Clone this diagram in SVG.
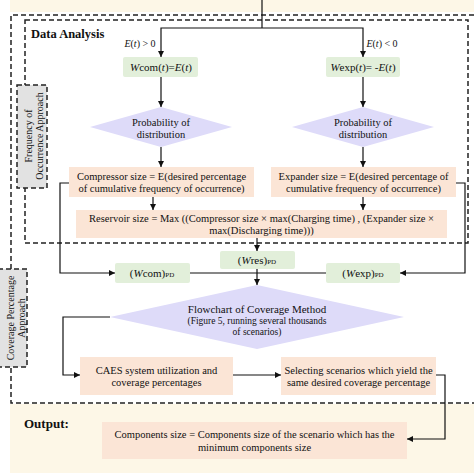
<svg xmlns="http://www.w3.org/2000/svg" width="474" height="473" viewBox="0 0 474 473">
<defs>
<marker id="ah" viewBox="0 0 10 10" refX="10" refY="5" markerWidth="6" markerHeight="6" markerUnits="userSpaceOnUse" orient="auto">
<path d="M0,0 L10,5 L0,10 z" fill="#111"/>
</marker>
<style>
text{font-family:"Liberation Serif","Times New Roman",serif;fill:#111;}
.t{font-size:10.5px;text-anchor:middle;}
.lab{font-size:10px;text-anchor:middle;}
.green{fill:#e2efda;}
.peach{fill:#fbe5d6;}
.dia{fill:#dedbf9;}
.gray{fill:#e2e2e2;stroke:#222;stroke-width:1.5;stroke-dasharray:5 3;}
.dash{fill:none;stroke:#222;stroke-width:1.5;stroke-dasharray:5 3;}
.ln{fill:none;stroke:#111;stroke-width:1.2;}
.it{font-style:italic;}
.pd{font-size:7px;}
</style>
</defs>
<rect width="474" height="473" fill="#fff"/>
<rect x="10" y="0" width="464" height="12" fill="#fdf7e7"/>
<rect x="10" y="404" width="464" height="69" fill="#fdf7e7"/>

<g id="frames">
<path class="dash" d="M474,15 H11 V403 H474"/>
<rect class="dash" x="25" y="20" width="443" height="223"/>
</g>

<g id="freq-label">
<rect class="gray" x="17" y="85" width="30" height="103"/>
<g transform="translate(32,136) rotate(-90)">
<text class="lab" x="0" y="0">Frequency of</text>
<text class="lab" x="0" y="11">Occurrence Approach</text>
</g>
</g>
<g id="cov-label">
<rect class="gray" x="-2" y="269" width="29" height="98"/>
<g transform="translate(13,318) rotate(-90)">
<text class="lab" x="0" y="1">Coverage Percentage</text>
<text class="lab" x="0" y="12">Approach</text>
</g>
</g>
<text x="31" y="38" style="font-size:12.5px;font-weight:bold;">Data Analysis</text>
<text x="24" y="428" style="font-size:13px;font-weight:bold;">Output:</text>

<g id="connectors">
<path class="ln" d="M262,0 V28"/>
<path class="ln" d="M262,28 H161 V57" marker-end="url(#ah)"/>
<path class="ln" d="M262,28 H363 V57" marker-end="url(#ah)"/>
<path class="ln" d="M161,77 V107" marker-end="url(#ah)"/>
<path class="ln" d="M363,77 V107" marker-end="url(#ah)"/>
<path class="ln" d="M161,147 V167" marker-end="url(#ah)"/>
<path class="ln" d="M363,147 V167" marker-end="url(#ah)"/>
<path class="ln" d="M153,197 V210" marker-end="url(#ah)"/>
<path class="ln" d="M363,197 V210" marker-end="url(#ah)"/>
<path class="ln" d="M257,238 V251" marker-end="url(#ah)"/>
<path class="ln" d="M69,183 H60 V273 H115" marker-end="url(#ah)"/>
<path class="ln" d="M456,183 H465 V273 H400" marker-end="url(#ah)"/>
<path class="ln" d="M190,273 H326"/>
<path class="ln" d="M257,269 V285" marker-end="url(#ah)"/>
<path class="ln" d="M110,317 H63 V375 H80" marker-end="url(#ah)"/>
<path class="ln" d="M233,375 H281" marker-end="url(#ah)"/>
<path class="ln" d="M436,375 H445 V439 H407" marker-end="url(#ah)"/>
</g>

<text x="140" y="47" class="t" style="font-size:10px;"><tspan class="it">E</tspan>(<tspan class="it">t</tspan>) &gt; 0</text>
<text x="382" y="47" class="t" style="font-size:10px;"><tspan class="it">E</tspan>(<tspan class="it">t</tspan>) &lt; 0</text>

<g id="wcom">
<rect class="green" x="123" y="57" width="75" height="20" rx="2"/>
<text class="t" x="161" y="71" style="font-size:11px;"><tspan class="it">W</tspan>com(<tspan class="it">t</tspan>)=<tspan class="it">E</tspan>(<tspan class="it">t</tspan>)</text>
</g>
<g id="wexp">
<rect class="green" x="326" y="57" width="74" height="20" rx="2"/>
<text class="t" x="363" y="71" style="font-size:11px;"><tspan class="it">W</tspan>exp(<tspan class="it">t</tspan>)= -<tspan class="it">E</tspan>(<tspan class="it">t</tspan>)</text>
</g>

<g id="prob1">
<polygon class="dia" points="161,107 232,127 161,147 90,127"/>
<text class="t" x="161" y="126">Probability of</text>
<text class="t" x="161" y="138">distribution</text>
</g>
<g id="prob2">
<polygon class="dia" points="363,107 434,127 363,147 292,127"/>
<text class="t" x="363" y="126">Probability of</text>
<text class="t" x="363" y="138">distribution</text>
</g>

<g id="compressor">
<rect class="peach" x="69" y="167" width="185" height="30"/>
<text class="t" x="161.5" y="180">Compressor size = E(desired percentage</text>
<text class="t" x="161.5" y="192">of cumulative frequency of occurrence)</text>
</g>
<g id="expander">
<rect class="peach" x="271" y="167" width="185" height="30"/>
<text class="t" x="363.5" y="180">Expander size = E(desired percentage of</text>
<text class="t" x="363.5" y="192">cumulative frequency of occurrence)</text>
</g>
<g id="reservoir">
<rect class="peach" x="76" y="210" width="371" height="28"/>
<text class="t" x="261.5" y="222">Reservoir size = Max ((Compressor size × max(Charging time) , (Expander size ×</text>
<text class="t" x="261.5" y="234">max(Discharging time)))</text>
</g>

<g id="wres">
<rect class="green" x="220" y="251" width="75" height="18" rx="2"/>
<text class="t" x="257" y="264" style="font-size:11px;">(<tspan class="it">W</tspan>res)<tspan class="pd">PD</tspan></text>
</g>
<g id="wcompd">
<rect class="green" x="115" y="263" width="75" height="20" rx="2"/>
<text class="t" x="152" y="277" style="font-size:11px;">(<tspan class="it">W</tspan>com)<tspan class="pd">PD</tspan></text>
</g>
<g id="wexppd">
<rect class="green" x="326" y="263" width="74" height="20" rx="2"/>
<text class="t" x="363" y="277" style="font-size:11px;">(<tspan class="it">W</tspan>exp)<tspan class="pd">PD</tspan></text>
</g>

<g id="coverage">
<polygon class="dia" points="257,285 404,317 257,349 110,317"/>
<text class="t" x="257" y="313" style="font-size:11px;">Flowchart of Coverage Method</text>
<text class="t" x="257" y="324" style="font-size:9.5px;">(Figure 5, running several thousands</text>
<text class="t" x="257" y="335" style="font-size:9.5px;">of scenarios)</text>
</g>

<g id="caes">
<rect class="peach" x="80" y="357" width="153" height="38"/>
<text class="t" x="156.5" y="374">CAES system utilization and</text>
<text class="t" x="156.5" y="386">coverage percentages</text>
</g>
<g id="selecting">
<rect class="peach" x="281" y="357" width="155" height="38"/>
<text class="t" x="358.5" y="374">Selecting scenarios which yield the</text>
<text class="t" x="358.5" y="386">same desired coverage percentage</text>
</g>
<g id="components">
<rect class="peach" x="102" y="422" width="305" height="37"/>
<text class="t" x="254.5" y="438">Components size = Components size of the scenario which has the</text>
<text class="t" x="254.5" y="451">minimum components size</text>
</g>
</svg>
